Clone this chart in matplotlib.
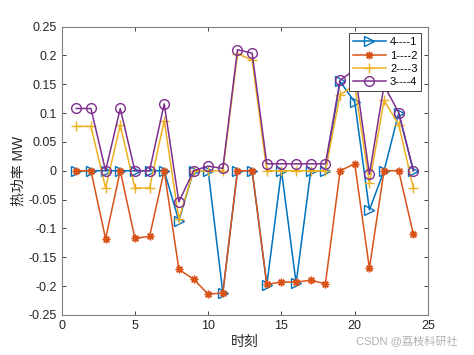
import numpy as np
import matplotlib.pyplot as plt

plt.rcParams['font.family'] = ['Liberation Sans', 'Noto Sans CJK SC', 'DejaVu Sans']

hours = np.arange(1, 25)

# 热功率 (MW)
p41 = [0, 0, 0, 0, 0, 0, 0, -0.087, 0, 0, -0.212, 0,
       0, -0.198, 0, -0.195, 0, 0, 0.155, 0.119, -0.068, 0, 0.100, 0]
p12 = [0, 0, -0.118, 0, -0.117, -0.114, 0, -0.171, -0.188, -0.214, -0.212, 0,
       0, -0.197, -0.193, -0.193, -0.190, -0.196, 0, 0.012, -0.169, 0, 0, -0.110]
p23 = [0.077, 0.077, -0.030, 0.079, -0.030, -0.030, 0.087, -0.084, 0, 0, 0, 0.203,
       0.192, 0, 0, 0, 0, 0, 0.132, 0.148, -0.022, 0.122, 0.080, -0.030]
p34 = [0.108, 0.108, 0, 0.108, 0, 0, 0.116, -0.054, 0, 0.008, 0.004, 0.210,
       0.204, 0.012, 0.012, 0.012, 0.012, 0.012, 0.157, 0.175, -0.006, 0.148, 0.101, 0]

labels = ['4----1', '1----2', '2----3', '3----4']
colors = ['#0072BD', '#D95319', '#EDB120', '#7E2F8E']
markers = ['>', (8, 2, 0), '+', 'o']
msizes = [7, 5.5, 7, 7]

fig = plt.figure(figsize=(4.74, 3.55), dpi=100)
ax = fig.add_axes([0.130, 0.113, 0.773, 0.812])

for vals, lab, c, m, ms in zip([p41, p12, p23, p34], labels, colors, markers, msizes):
    ax.plot(hours, vals, color=c, marker=m, markersize=ms, linewidth=1.1,
            markerfacecolor='none', markeredgewidth=1.0, label=lab)

ax.set_xlim(0, 25)
ax.set_ylim(-0.25, 0.25)
ax.set_xticks([0, 5, 10, 15, 20, 25])
ax.set_yticks(np.arange(-0.25, 0.251, 0.05))
ax.set_yticklabels(['-0.25', '-0.2', '-0.15', '-0.1', '-0.05', '0',
                    '0.05', '0.1', '0.15', '0.2', '0.25'])
ax.tick_params(direction='in', top=True, right=True, labelsize=9,
               colors='#262626', length=3, width=0.6)
for s in ax.spines.values():
    s.set_color('#7f7f7f')
    s.set_linewidth(0.8)

ax.set_xlabel('时刻', fontsize=10, color='#262626', labelpad=2)
ax.set_ylabel('热功率 MW', fontsize=10, color='#262626', labelpad=2)

leg = ax.legend(loc='upper right', fontsize=8, frameon=True, fancybox=False,
                framealpha=1, borderpad=0.35, labelspacing=0.3,
                handlelength=3.0, handletextpad=0.35, borderaxespad=0.6)
leg.get_frame().set_edgecolor('#262626')
leg.get_frame().set_linewidth(0.6)

fig.text(0.965, 0.025, 'CSDN @荔枝科研社', ha='right', va='bottom',
         fontsize=8, color='#b0b0b0')

fig.savefig('out.png', dpi=100)
